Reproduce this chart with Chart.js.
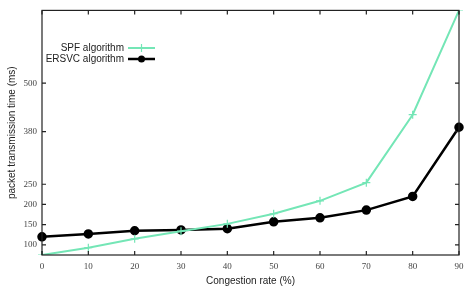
<!DOCTYPE html>
<html>
<head>
<meta charset="utf-8">
<script src="https://cdn.jsdelivr.net/npm/chart.js@4/dist/chart.umd.min.js"></script>
<style>
  body { margin: 0; background: #fff; }
  #wrap { width: 474px; height: 287px; }
</style>
</head>
<body>
<div id="wrap"><canvas id="myChart" width="474" height="287"></canvas></div>
<script>
// data
const congestion = ['0', '10', '20', '30', '40', '50', '60', '70', '80', '90'];
const spfTime = [75, 93, 115, 134, 152, 177, 209, 254, 422, 680];
const ersvcTime = [120, 127, 135, 137, 140, 157, 167, 186, 220, 391];
const yTickLabels = [100, 150, 200, 250, 380, 500];

const spfColor = '#74e6b6';
const ersvcColor = '#000000';

// gnuplot style frame with inward ticks
const frame = {
    id: 'frame',
    afterDatasetsDraw(chart) {
        const ctx = chart.ctx;
        const a = chart.chartArea;
        const xs = chart.scales.x, ys = chart.scales.y;
        ctx.save();
        ctx.strokeStyle = '#222';
        ctx.lineWidth = 1.2;
        ctx.strokeRect(a.left, a.top, a.right - a.left, a.bottom - a.top);
        ctx.beginPath();
        congestion.forEach((c, i) => {
            const px = xs.getPixelForValue(i);
            ctx.moveTo(px, a.bottom); ctx.lineTo(px, a.bottom - 4);
            ctx.moveTo(px, a.top); ctx.lineTo(px, a.top + 4);
        });
        yTickLabels.forEach(v => {
            const py = ys.getPixelForValue(v);
            ctx.moveTo(a.left, py); ctx.lineTo(a.left + 4, py);
            ctx.moveTo(a.right, py); ctx.lineTo(a.right - 4, py);
        });
        ctx.stroke();
        ctx.restore();
    }
};

// legend: text right aligned, line sample on the right
const keyBox = {
    id: 'keyBox',
    afterDraw(chart) {
        const ctx = chart.ctx;
        const textRight = 124, lineL = 128, lineR = 155;
        let y = 48;
        ctx.save();
        ctx.font = '10px "Liberation Sans", Arial, sans-serif';
        ctx.textAlign = 'right';
        ctx.textBaseline = 'middle';
        chart.data.datasets.forEach(ds => {
            ctx.fillStyle = '#222';
            ctx.fillText(ds.label, textRight, y);
            ctx.strokeStyle = ds.borderColor;
            ctx.lineWidth = ds.borderWidth;
            ctx.beginPath();
            ctx.moveTo(lineL, y); ctx.lineTo(lineR, y);
            ctx.stroke();
            const mx = (lineL + lineR) / 2;
            if (ds.pointStyle === 'circle') {
                ctx.fillStyle = ds.pointBackgroundColor;
                ctx.beginPath(); ctx.arc(mx, y, 3.5, 0, Math.PI * 2); ctx.fill();
            } else {
                ctx.lineWidth = 1.2;
                ctx.beginPath();
                ctx.moveTo(mx - 4, y); ctx.lineTo(mx + 4, y);
                ctx.moveTo(mx, y - 4); ctx.lineTo(mx, y + 4);
                ctx.stroke();
            }
            y += 11;
        });
        ctx.restore();
    }
};

const ctx = document.getElementById('myChart').getContext('2d');
const myChart = new Chart(ctx, {
    type: 'line',
    data: {
        labels: congestion,
        datasets: [{
            label: 'SPF algorithm',
            data: spfTime,
            borderColor: spfColor,
            backgroundColor: spfColor,
            borderWidth: 2,
            pointStyle: 'cross',
            pointRadius: 4,
            pointBorderWidth: 1.2,
            pointBorderColor: spfColor,
            tension: 0,
            fill: false
        }, {
            label: 'ERSVC algorithm',
            data: ersvcTime,
            borderColor: ersvcColor,
            backgroundColor: ersvcColor,
            pointBackgroundColor: ersvcColor,
            borderWidth: 2.5,
            pointStyle: 'circle',
            pointRadius: 3.5,
            tension: 0,
            fill: false
        }]
    },
    options: {
        responsive: false,
        animation: false,
        layout: { padding: { top: 10, right: 15, left: 0, bottom: 0 } },
        scales: {
            x: {
                offset: false,
                grid: { display: false, drawTicks: false },
                border: { display: false },
                ticks: {
                    color: '#444',
                    padding: 6,
                    maxRotation: 0,
                    font: { family: '"Liberation Serif", serif', size: 9 }
                },
                title: {
                    display: true,
                    text: 'Congestion rate (%)',
                    color: '#222',
                    padding: { top: 2, bottom: 0 },
                    font: { family: '"Liberation Sans", Arial, sans-serif', size: 10 }
                },
                afterFit(scale) { scale.height = 32; }
            },
            y: {
                min: 75,
                max: 680,
                grid: { display: false, drawTicks: false },
                border: { display: false },
                afterBuildTicks(scale) {
                    scale.ticks = yTickLabels.map(v => ({ value: v }));
                },
                ticks: {
                    color: '#444',
                    padding: 5,
                    font: { family: '"Liberation Serif", serif', size: 9 }
                },
                title: {
                    display: true,
                    text: 'packet transmission time (ms)',
                    color: '#222',
                    padding: { top: 6, bottom: 2 },
                    font: { family: '"Liberation Sans", Arial, sans-serif', size: 10 }
                },
                afterFit(scale) { scale.width = 42; }
            }
        },
        plugins: {
            legend: { display: false },
            tooltip: { enabled: false }
        }
    },
    plugins: [frame, keyBox]
});
</script>
</body>
</html>
